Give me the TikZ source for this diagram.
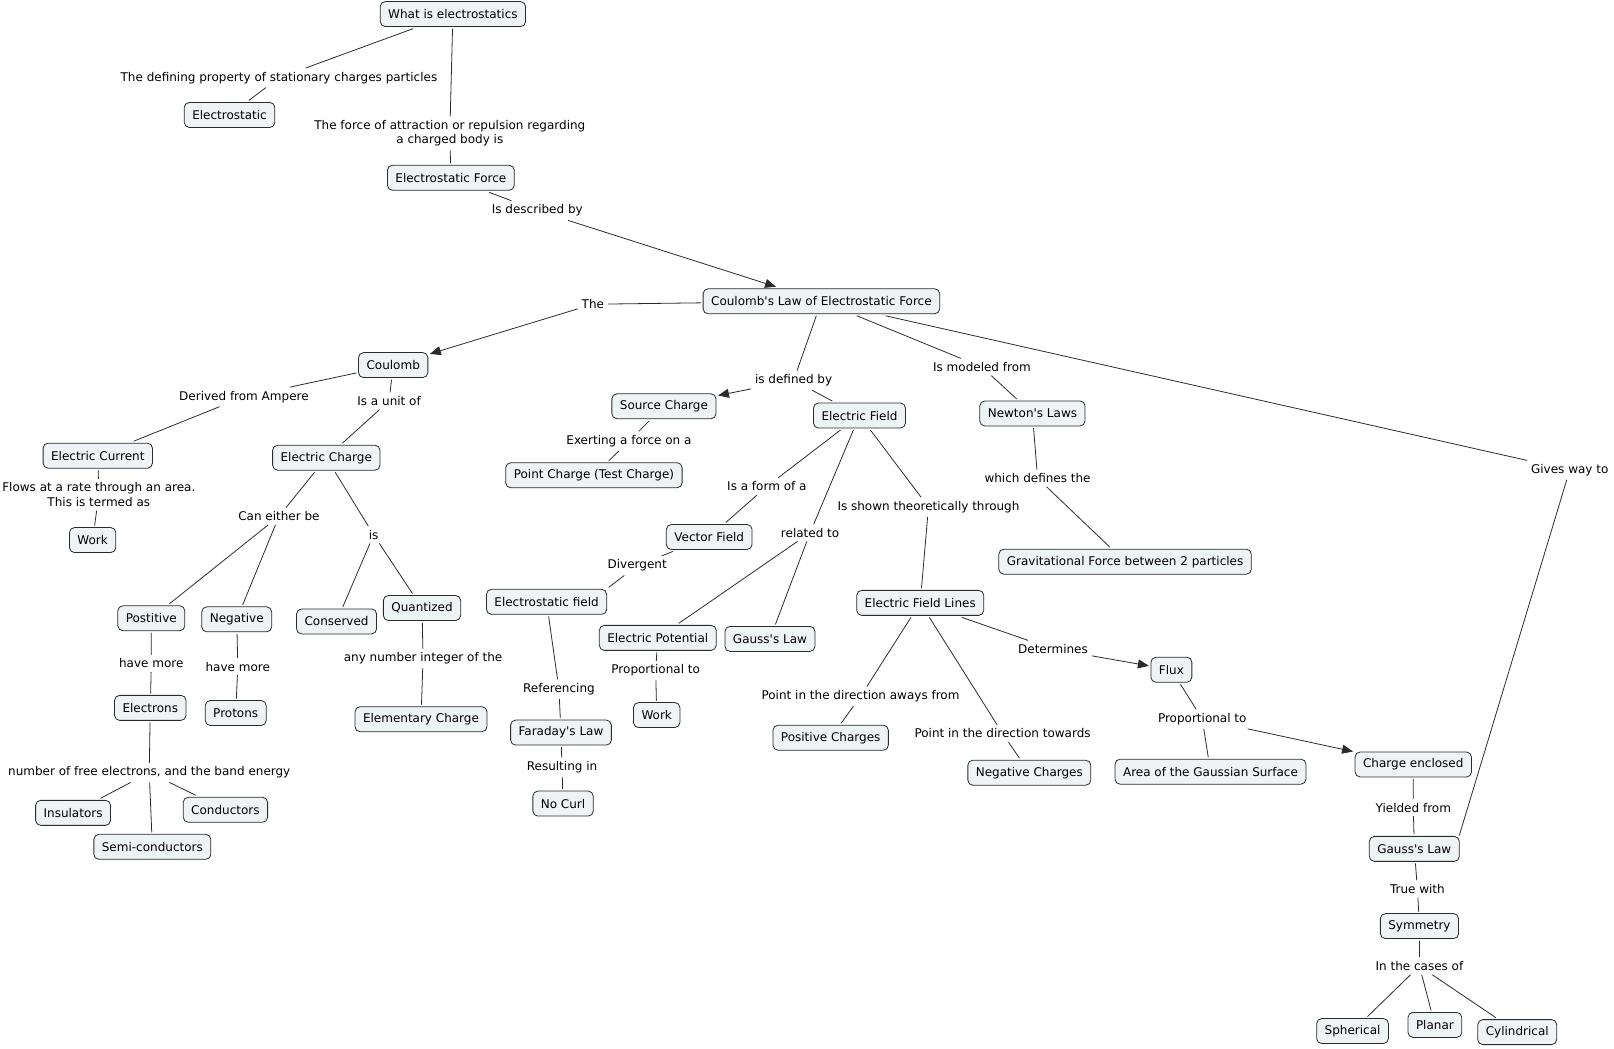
\documentclass[tikz,border=0pt]{standalone}
\usepackage{fontspec}
\newfontfamily\mapfont{DejaVu Sans}
\usepackage{tikz}
\usetikzlibrary{arrows.meta}
\definecolor{boxfill}{HTML}{EEF3F5}
\definecolor{boxline}{HTML}{2B2B2B}

\begin{document}
\begin{tikzpicture}[x=1.0293pt, y=-1.0293pt,
		concept/.style={draw=boxline, fill=boxfill, rounded corners=5pt, line width=0.8pt,
			inner xsep=8pt, inner ysep=0pt, minimum height=25pt, outer sep=2pt, yshift=-0.7pt,
			font=\mapfont\fontsize{12}{14.4}\selectfont},
		linkph/.style={inner sep=1pt, outer sep=3pt, align=center, yshift=-1.6pt,
			font=\mapfont\fontsize{12}{14.4}\selectfont},
		conn/.style={draw=boxline, line width=0.8pt},
		arr/.style={conn, -{Triangle[length=11pt,width=9pt]}}]
		
		\useasboundingbox (0,0) rectangle (1568,1019);
		
		% Concepts
		\node[concept] (whatis) at (440,13) {What is electrostatics};
		\node[concept] (estatic) at (223,111) {Electrostatic};
		\node[concept] (esforce) at (438,172) {Electrostatic Force};
		\node[concept] (coulaw) at (798,292) {Coulomb's Law of Electrostatic Force};
		\node[concept] (coulomb) at (382,354) {Coulomb};
		\node[concept] (ecurrent) at (95,442) {Electric Current};
		\node[concept] (echarge) at (317,444) {Electric Charge};
		\node[concept] (workA) at (90,524) {Work};
		\node[concept] (positive) at (147,600) {Postitive};
		\node[concept] (negative) at (230,601) {Negative};
		\node[concept] (conserved) at (327,603) {Conserved};
		\node[concept] (quantized) at (410,590) {Quantized};
		\node[concept] (electrons) at (146,687) {Electrons};
		\node[concept] (protons) at (229,692) {Protons};
		\node[concept] (elemchg) at (409,698) {Elementary Charge};
		\node[concept] (insul) at (71,789) {Insulators};
		\node[concept] (conduct) at (219,786) {Conductors};
		\node[concept] (semicond) at (148,822) {Semi-conductors};
		\node[concept] (source) at (645,394) {Source Charge};
		\node[concept] (pointchg) at (577,461) {Point Charge (Test Charge)};
		\node[concept] (efield) at (835,403) {Electric Field};
		\node[concept] (vecfield) at (689,521) {Vector Field};
		\node[concept] (esfield) at (531,584) {Electrostatic field};
		\node[concept] (epot) at (639,619) {Electric Potential};
		\node[concept] (gaussA) at (748,620) {Gauss's Law};
		\node[concept] (faraday) at (545,711) {Faraday's Law};
		\node[concept] (nocurl) at (547,780) {No Curl};
		\node[concept] (workB) at (638,694) {Work};
		\node[concept] (eflines) at (894,585) {Electric Field Lines};
		\node[concept] (poschg) at (807,716) {Positive Charges};
		\node[concept] (negchg) at (1000,750) {Negative Charges};
		\node[concept] (flux) at (1138,650) {Flux};
		\node[concept] (gsurf) at (1176,749) {Area of the Gaussian Surface};
		\node[concept] (chgenc) at (1373,742) {Charge enclosed};
		\node[concept] (gaussB) at (1374,824) {Gauss's Law};
		\node[concept] (symm) at (1379,899) {Symmetry};
		\node[concept] (spher) at (1314,1001) {Spherical};
		\node[concept] (planar) at (1394,995) {Planar};
		\node[concept] (cylind) at (1474,1002) {Cylindrical};
		\node[concept] (newton) at (1003,401) {Newton's Laws};
		\node[concept] (gravity) at (1093,545) {Gravitational Force between 2 particles};
		
		% Linking phrases
		\node[linkph] (lkdef) at (271,74) {The defining property of stationary charges particles};
		\node[linkph] (lkforce) at (437,128) {The force of attraction or repulsion regarding\\a charged body is};
		\node[linkph] (lkdesc) at (522,203) {Is described by};
		\node[linkph] (lkthe) at (576,294) {The};
		\node[linkph] (lkampere) at (237,384) {Derived from Ampere};
		\node[linkph] (lkunit) at (378,388) {Is a unit of};
		\node[linkph] (lkflows) at (96,479) {Flows at a rate through an area.\\This is termed as};
		\node[linkph] (lkeither) at (271,500) {Can either be};
		\node[linkph] (lkis) at (363,518) {is};
		\node[linkph] (lkmoreA) at (147,643) {have more};
		\node[linkph] (lkmoreB) at (231,646) {have more};
		\node[linkph] (lkinteger) at (411,638) {any number integer of the};
		\node[linkph] (lkband) at (145,749) {number of free electrons, and the band energy};
		\node[linkph] (lkdefby) at (771,368) {is defined by};
		\node[linkph] (lkexert) at (611,427) {Exerting a force on a};
		\node[linkph] (lkform) at (745,471) {Is a form of a};
		\node[linkph] (lkrel) at (787,516) {related to};
		\node[linkph] (lkshown) at (902,491) {Is shown theoretically through};
		\node[linkph] (lkdiv) at (619,548) {Divergent};
		\node[linkph] (lkref) at (543,668) {Referencing};
		\node[linkph] (lkpropA) at (637,650) {Proportional to};
		\node[linkph] (lkresult) at (546,744) {Resulting in};
		\node[linkph] (lkaway) at (836,675) {Point in the direction aways from};
		\node[linkph] (lktoward) at (974,711) {Point in the direction towards};
		\node[linkph] (lkdeter) at (1023,629) {Determines};
		\node[linkph] (lkpropB) at (1168,697) {Proportional to};
		\node[linkph] (lkmodel) at (954,355) {Is modeled from};
		\node[linkph] (lkwhich) at (1008,463) {which defines the};
		\node[linkph] (lkgives) at (1525,455) {Gives way to};
		\node[linkph] (lkyield) at (1373,783) {Yielded from};
		\node[linkph] (lktrue) at (1377,862) {True with};
		\node[linkph] (lkcases) at (1379,937) {In the cases of};
		
		% Top of the map
		\draw[conn] (whatis) -- (lkdef) -- (estatic);
		\draw[conn] (whatis) -- (lkforce) -- (esforce);
		\draw[conn] (esforce) -- (lkdesc);
		\draw[arr] (lkdesc) -- (coulaw);
		
		% Coulomb branch
		\draw[conn] (coulaw) -- (lkthe);
		\draw[arr] (lkthe) -- (coulomb);
		\draw[conn] (coulomb) -- (lkampere) -- (ecurrent);
		\draw[conn] (coulomb) -- (lkunit) -- (echarge);
		\draw[conn] (ecurrent) -- (lkflows) -- (workA);
		\draw[conn] (echarge) -- (lkeither);
		\foreach \t in {positive,negative}
			\draw[conn] (lkeither) -- (\t);
		\draw[conn] (echarge) -- (lkis);
		\foreach \t in {conserved,quantized}
			\draw[conn] (lkis) -- (\t);
		\draw[conn] (positive) -- (lkmoreA) -- (electrons);
		\draw[conn] (negative) -- (lkmoreB) -- (protons);
		\draw[conn] (quantized) -- (lkinteger) -- (elemchg);
		\draw[conn] (electrons) -- (lkband);
		\foreach \t in {insul,semicond,conduct}
			\draw[conn] (lkband) -- (\t);
		
		% Electric field branch
		\draw[conn] (coulaw) -- (lkdefby);
		\draw[arr] (lkdefby) -- (source);
		\draw[conn] (lkdefby) -- (efield);
		\draw[conn] (source) -- (lkexert) -- (pointchg);
		\draw[conn] (efield) -- (lkform) -- (vecfield);
		\draw[conn] (efield) -- (lkrel);
		\foreach \t in {epot,gaussA}
			\draw[conn] (lkrel) -- (\t);
		\draw[conn] (efield) -- (lkshown) -- (eflines);
		\draw[conn] (vecfield) -- (lkdiv) -- (esfield.north east);
		\draw[conn] (esfield) -- (lkref) -- (faraday);
		\draw[conn] (faraday) -- (lkresult) -- (nocurl);
		\draw[conn] (epot) -- (lkpropA) -- (workB);
		\draw[conn] (eflines) -- (lkaway) -- (poschg);
		\draw[conn] (eflines) -- (lktoward) -- (negchg);
		\draw[conn] (eflines) -- (lkdeter);
		\draw[arr] (lkdeter) -- (flux);
		\draw[conn] (flux) -- (lkpropB) -- (gsurf);
		\draw[arr] (lkpropB) -- (chgenc);
		
		% Newton and Gauss branch
		\draw[conn] (coulaw) -- (lkmodel) -- (newton);
		\draw[conn] (newton) -- (lkwhich) -- (gravity);
		\draw[conn] (coulaw) -- (lkgives) -- ([xshift=-2pt,yshift=-1pt]gaussB.north east);
		\draw[conn] (chgenc) -- (lkyield) -- (gaussB);
		\draw[conn] (gaussB) -- (lktrue) -- (symm);
		\draw[conn] (symm) -- (lkcases);
		\foreach \t in {spher,planar,cylind}
			\draw[conn] (lkcases) -- (\t);
	\end{tikzpicture}
\end{document}
